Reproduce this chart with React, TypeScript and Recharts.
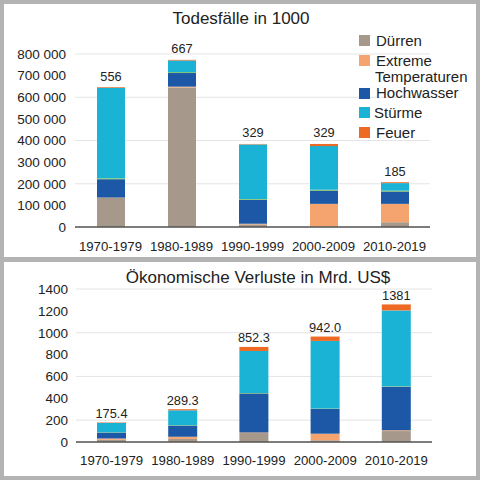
import { Bar, BarChart, CartesianGrid, LabelList, XAxis, YAxis } from "recharts";

const decades = ["1970-1979", "1980-1989", "1990-1999", "2000-2009", "2010-2019"];

// Todesfälle – Balkenhöhen
const deathDrought = [134000, 645000, 12000, 1000, 22000];
const deathHeat = [2000, 4000, 3000, 106000, 85000];
const deathFlood = [85000, 63000, 111000, 61000, 57000];
const deathOther = [4000, 4000, 3000, 4000, 4000];
const deathStorm = [419000, 54000, 253000, 202000, 35000];
const deathFire = [3000, 3000, 2000, 10000, 4000];
const deathLabels = ["556", "667", "329", "329", "185"];
const deathTicks = [0, 100000, 200000, 300000, 400000, 500000, 600000, 700000, 800000];

// Ökonomische Verluste in Mrd. US$
const lossDrought = [20, 28, 82, 16, 100];
const lossHeat = [12, 20, 6, 60, 7];
const lossFlood = [54, 102, 356, 227, 398];
const lossOther = [3, 4, 4, 4, 4];
const lossStorm = [86, 136, 385, 618, 695];
const lossFire = [4, 10, 37, 40, 55];
const lossLabels = ["175.4", "289.3", "852.3", "942.0", "1381"];
const lossTicks = [0, 200, 400, 600, 800, 1000, 1200, 1400];

const series = [
  { key: "drought", name: "Dürren", color: "#a6998b" },
  { key: "heat", name: "Extreme Temperaturen", color: "#f5a46f" },
  { key: "flood", name: "Hochwasser", color: "#1c58a5" },
  { key: "other", name: "", color: "#7bbd4c" },
  { key: "storm", name: "Stürme", color: "#1ab3d5" },
  { key: "fire", name: "Feuer", color: "#ee6a24" },
];

const deathRows = decades.map((decade, i) => ({
  decade,
  drought: deathDrought[i],
  heat: deathHeat[i],
  flood: deathFlood[i],
  other: deathOther[i],
  storm: deathStorm[i],
  fire: deathFire[i],
  label: deathLabels[i],
}));

const lossRows = decades.map((decade, i) => ({
  decade,
  drought: lossDrought[i],
  heat: lossHeat[i],
  flood: lossFlood[i],
  other: lossOther[i],
  storm: lossStorm[i],
  fire: lossFire[i],
  label: lossLabels[i],
}));

const font = "'Liberation Sans', Arial, sans-serif";
const textColor = "#222";

const thousands = (v: number) => String(v).replace(/\B(?=(\d{3})+(?!\d))/g, " ");

function LegendBox() {
  const sq = (color: string, top: number) => (
    <span style={{ position: "absolute", left: 0, top, width: 11, height: 11, background: color }} />
  );
  return (
    <div style={{ position: "absolute", left: 355, top: 27, width: 118, fontSize: 15, color: textColor }}>
      <div style={{ position: "relative", height: 20, lineHeight: "20px", paddingLeft: 17 }}>
        {sq(series[0].color, 4)}Dürren
      </div>
      <div style={{ position: "relative", marginTop: 2, lineHeight: "16px", paddingLeft: 17, whiteSpace: "nowrap" }}>
        {sq(series[1].color, 2)}Extreme
        <br />
        <span style={{ marginLeft: -1 }}>Temperaturen</span>
      </div>
      <div style={{ position: "relative", height: 20, lineHeight: "20px", paddingLeft: 17, marginTop: -2 }}>
        {sq(series[2].color, 5)}Hochwasser
      </div>
      <div style={{ position: "relative", height: 20, lineHeight: "20px", paddingLeft: 15 }}>
        {sq(series[4].color, 4)}
        <span style={{ marginLeft: 0 }}>Stürme</span>
      </div>
      <div style={{ position: "relative", height: 20, lineHeight: "20px", paddingLeft: 17 }}>
        {sq(series[5].color, 4)}Feuer
      </div>
    </div>
  );
}

export default function App() {
  return (
    <div
      style={{
        position: "absolute",
        left: 0,
        top: 0,
        width: 480,
        height: 480,
        background: "#b3b3b3",
        fontFamily: font,
      }}
    >
      <div style={{ position: "absolute", left: 4, top: 4, width: 472, height: 253, background: "#fff" }}>
        <div
          style={{
            position: "absolute",
            left: 237,
            top: 5,
            transform: "translateX(-50%)",
            whiteSpace: "nowrap",
            fontSize: 17,
            lineHeight: "20px",
            color: textColor,
          }}
        >
          Todesfälle in 1000
        </div>
        <BarChart width={472} height={253} data={deathRows} margin={{ top: 50, right: 46, bottom: 0, left: 0 }}>
          <CartesianGrid vertical={false} stroke="#e4e4e4" />
          <XAxis
            dataKey="decade"
            interval={0}
            height={30}
            tickLine={false}
            tickMargin={9}
            axisLine={{ stroke: "#555", strokeWidth: 1.5 }}
            tick={{ fill: textColor, fontSize: 13.2 }}
          />
          <YAxis
            domain={[0, 800000]}
            ticks={deathTicks}
            width={71}
            axisLine={false}
            tickLine={false}
            tickMargin={3}
            tickFormatter={thousands}
            tick={{ fill: textColor, fontSize: 13.5 }}
          />
          {series.map((s, idx) => (
            <Bar key={s.key} dataKey={s.key} stackId="a" fill={s.color} barSize={28} isAnimationActive={false}>
              {idx === series.length - 1 && (
                <LabelList dataKey="label" position="top" offset={6.5} fill={textColor} fontSize={12.8} />
              )}
            </Bar>
          ))}
        </BarChart>
        <LegendBox />
      </div>

      <div style={{ position: "absolute", left: 4, top: 262, width: 472, height: 214, background: "#fff" }}>
        <div
          style={{
            position: "absolute",
            left: 254,
            top: 6,
            transform: "translateX(-50%)",
            whiteSpace: "nowrap",
            fontSize: 17,
            lineHeight: "20px",
            color: textColor,
          }}
        >
          Ökonomische Verluste in Mrd. US$
        </div>
        <BarChart width={472} height={214} data={lossRows} margin={{ top: 27, right: 44, bottom: 0, left: 0 }}>
          <CartesianGrid vertical={false} stroke="#e4e4e4" />
          <XAxis
            dataKey="decade"
            interval={0}
            height={34}
            tickLine={false}
            tickMargin={8}
            axisLine={{ stroke: "#555", strokeWidth: 1.5 }}
            tick={{ fill: textColor, fontSize: 13.2 }}
          />
          <YAxis
            domain={[0, 1400]}
            ticks={lossTicks}
            width={72}
            axisLine={false}
            tickLine={false}
            tickMargin={2}
            tick={{ fill: textColor, fontSize: 13.5 }}
          />
          {series.map((s, idx) => (
            <Bar key={s.key} dataKey={s.key} stackId="a" fill={s.color} barSize={29} isAnimationActive={false}>
              {idx === series.length - 1 && (
                <LabelList dataKey="label" position="top" offset={4.5} fill={textColor} fontSize={12.8} />
              )}
            </Bar>
          ))}
        </BarChart>
      </div>
    </div>
  );
}
